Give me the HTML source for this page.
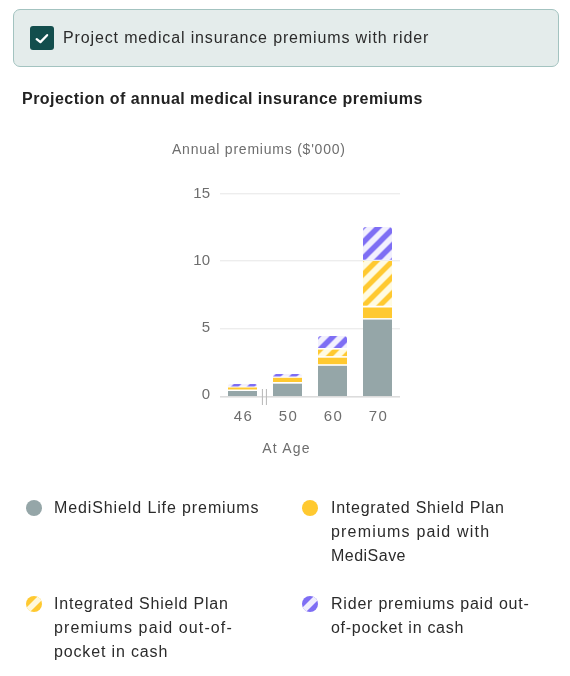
<!DOCTYPE html>
<html>
<head>
<meta charset="utf-8">
<style>
html,body{margin:0;padding:0;background:#fff;width:570px;height:676px;overflow:hidden;position:relative;font-family:"Liberation Sans",sans-serif;}
.card{position:absolute;left:13px;top:9px;width:544px;height:56px;border:1px solid #a3c3c0;border-radius:7px;background:#e4eceb;}
.cb{position:absolute;left:30px;top:26px;width:24px;height:24px;border-radius:3px;background:#134e4d;}
.t{position:absolute;white-space:nowrap;line-height:24px;will-change:transform;}
.dot{position:absolute;width:16px;height:16px;border-radius:50%;}
</style>
</head>
<body>
<div class="card"></div>
<div class="cb"><svg width="24" height="24" viewBox="0 0 24 24"><path d="M6.7 13.1 L10.4 16.1 L17.1 9.2" fill="none" stroke="#fff" stroke-width="2.3" stroke-linecap="round" stroke-linejoin="round"/></svg></div>
<div class="t" style="left:63px;top:25.56px;font-size:16px;letter-spacing:0.865px;color:#2b2b2b;font-weight:normal;">Project medical insurance premiums with rider</div>
<div class="t" style="left:22px;top:86.96px;font-size:16px;letter-spacing:0.469px;color:#222;font-weight:bold;">Projection of annual medical insurance premiums</div>
<div class="t" style="left:54px;top:495.56px;font-size:16px;letter-spacing:0.89px;color:#2b2b2b;font-weight:normal;">MediShield Life premiums</div>
<div class="t" style="left:331px;top:495.56px;font-size:16px;letter-spacing:0.74px;color:#2b2b2b;font-weight:normal;">Integrated Shield Plan</div>
<div class="t" style="left:331px;top:519.56px;font-size:16px;letter-spacing:1.194px;color:#2b2b2b;font-weight:normal;">premiums paid with</div>
<div class="t" style="left:331px;top:543.56px;font-size:16px;letter-spacing:0.481px;color:#2b2b2b;font-weight:normal;">MediSave</div>
<div class="t" style="left:54px;top:591.66px;font-size:16px;letter-spacing:0.781px;color:#2b2b2b;font-weight:normal;">Integrated Shield Plan</div>
<div class="t" style="left:54px;top:615.66px;font-size:16px;letter-spacing:1.105px;color:#2b2b2b;font-weight:normal;">premiums paid out-of-</div>
<div class="t" style="left:54px;top:639.66px;font-size:16px;letter-spacing:0.847px;color:#2b2b2b;font-weight:normal;">pocket in cash</div>
<div class="t" style="left:331px;top:591.66px;font-size:16px;letter-spacing:0.792px;color:#2b2b2b;font-weight:normal;">Rider premiums paid out-</div>
<div class="t" style="left:331px;top:615.66px;font-size:16px;letter-spacing:0.711px;color:#2b2b2b;font-weight:normal;">of-pocket in cash</div>
<svg style="position:absolute;left:0;top:0" width="570" height="676" viewBox="0 0 570 676">
  <defs>
    <pattern id="py" patternUnits="userSpaceOnUse" width="16" height="16" patternTransform="translate(13.5 0)">
      <rect width="16" height="16" fill="#fffbe2"/>
      <path d="M-4 4 L4 -4 M-4 20 L20 -4 M12 20 L20 12" stroke="#ffc930" stroke-width="5.3"/>
    </pattern>
    <pattern id="pp" patternUnits="userSpaceOnUse" width="16" height="16" patternTransform="translate(13.5 0)">
      <rect width="16" height="16" fill="#f2f0fe"/>
      <path d="M-4 4 L4 -4 M-4 20 L20 -4 M12 20 L20 12" stroke="#7e6ef4" stroke-width="5.5"/>
    </pattern>
    <clipPath id="c46"><rect x="228" y="383" width="29" height="14" rx="3"/></clipPath>
  </defs>
  <g font-family="Liberation Sans" fill="#6e6e6e">
    <text x="172" y="153.8" font-size="14" letter-spacing="0.77">Annual premiums ($'000)</text>
    <text x="210" y="197.5" font-size="15" text-anchor="end">15</text>
    <text x="210" y="264.5" font-size="15" text-anchor="end">10</text>
    <text x="210" y="331.5" font-size="15" text-anchor="end">5</text>
    <text x="210" y="398.5" font-size="15" text-anchor="end">0</text>
    <text x="243.5" y="420.8" font-size="15" text-anchor="middle" letter-spacing="1.4">46</text>
    <text x="288.5" y="420.8" font-size="15" text-anchor="middle" letter-spacing="1.4">50</text>
    <text x="333.5" y="420.8" font-size="15" text-anchor="middle" letter-spacing="1.4">60</text>
    <text x="378.5" y="420.8" font-size="15" text-anchor="middle" letter-spacing="1.4">70</text>
    <text x="286.5" y="452.6" font-size="14" text-anchor="middle" letter-spacing="1.2">At Age</text>
  </g>
  <g fill="#e6e6e6">
    <rect x="220" y="193.3" width="180" height="1"/>
    <rect x="220" y="260.3" width="180" height="1"/>
    <rect x="220" y="328.3" width="180" height="1"/>
  </g>
  <!-- bars -->
  <g>
    <!-- 46 -->
    <rect x="228" y="391" width="29" height="5.5" fill="#95a6a8"/>
    <rect x="228" y="387.5" width="29" height="2" fill="#ffc930"/>
    <path d="M228 386.5 V386 Q228 384 230 384 H255 Q257 384 257 386 V386.5 Z" fill="url(#pp)"/>
    <!-- 50 -->
    <rect x="273" y="383.7" width="29" height="12.8" fill="#95a6a8"/>
    <rect x="273" y="377.8" width="29" height="4.2" fill="#ffc930"/>
    <path d="M273 376.6 V375.9 Q273 373.9 275 373.9 H300 Q302 373.9 302 375.9 V376.6 Z" fill="url(#pp)"/>
    <!-- 60 -->
    <rect x="318" y="365.8" width="29" height="30.7" fill="#95a6a8"/>
    <rect x="318" y="357.7" width="29" height="6.5" fill="#ffc930"/>
    <rect x="318" y="349.6" width="29" height="6.5" fill="url(#py)"/>
    <path d="M318 347.9 V339 Q318 336 321 336 H344 Q347 336 347 339 V347.9 Z" fill="url(#pp)"/>
    <!-- 70 -->
    <rect x="363" y="319.6" width="29" height="76.9" fill="#95a6a8"/>
    <rect x="363" y="307.5" width="29" height="10.6" fill="#ffc930"/>
    <rect x="363" y="261" width="29" height="44.7" fill="url(#py)"/>
    <path d="M363 259.8 V230 Q363 227 366 227 H389 Q392 227 392 230 V259.8 Z" fill="url(#pp)"/>
  </g>
  <!-- axis -->
  <rect x="220" y="396" width="37" height="1.6" fill="#dcdcdc"/>
  <rect x="257" y="396" width="143" height="1.6" fill="#dcdcdc"/>
  <rect x="261.9" y="389" width="1.1" height="16" fill="#bdbdbd"/>
  <rect x="265.9" y="389" width="1.1" height="16" fill="#bdbdbd"/>
</svg>

<div class="dot" style="left:26px;top:500px;background:#95a6a8"></div>
<div class="dot" style="left:302px;top:500px;background:#ffc930"></div>
<div class="dot" style="left:26px;top:596px"><svg width="16" height="16" viewBox="0 0 16 16"><defs><clipPath id="cc1"><circle cx="8" cy="8" r="8"/></clipPath></defs><g clip-path="url(#cc1)"><rect width="16" height="16" fill="#ffc930"/><path d="M0 16 L16 0" stroke="#fff8dc" stroke-width="5.6"/></g></svg></div>
<div class="dot" style="left:302px;top:596px"><svg width="16" height="16" viewBox="0 0 16 16"><defs><clipPath id="cc2"><circle cx="8" cy="8" r="8"/></clipPath></defs><g clip-path="url(#cc2)"><rect width="16" height="16" fill="#7e6ef4"/><path d="M0 16 L16 0" stroke="#f0eefd" stroke-width="5.6"/></g></svg></div>
</body>
</html>
